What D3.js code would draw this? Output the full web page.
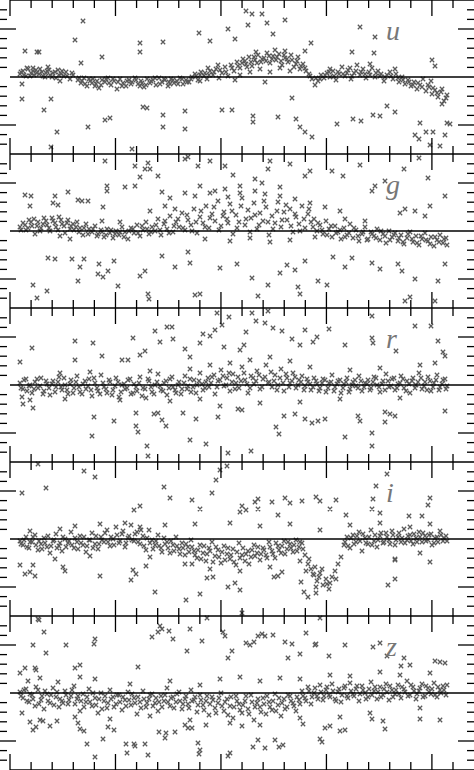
<!DOCTYPE html>
<html>
<head>
<meta charset="utf-8">
<script src="https://cdn.jsdelivr.net/npm/d3@7"></script>
<style>
body { margin: 0; background: #fff; }
svg { display: block; }
</style>
</head>
<body>
<script>
// Фильтры (подписи панелей)
var bands = ['u', 'g', 'r', 'i', 'z'];

// Точки панелей: пары x, y (y - отклонение от нулевой линии)
var uPoints = [
	20,3, 23,6, 26,1, 28,8, 31,4, 34,2, 36,7, 39,3, 42,5, 45,0, 47,6, 50,2, 53,4, 56,-1, 58,7, 61,3, 64,1, 66,5, 70,-2, 73,2,
	78,-3, 81,-6, 84,-1, 87,-9, 90,-4, 93,-2, 96,-7, 99,-11, 102,-3, 105,-5, 108,-1, 111,-8, 114,-4, 117,-12, 120,-2, 123,-6,
	126,-9, 129,-3, 132,-5, 135,-1, 138,-7, 141,-4, 144,-10, 147,-2, 150,-6, 153,-3, 156,-8, 159,-1, 162,-5, 165,-3, 168,-9,
	171,-2, 174,-6, 177,-4, 180,-1, 183,-7, 186,-3, 189,-5, 192,0, 195,3, 198,-3, 201,5, 204,1, 207,-2, 210,6, 213,2, 216,8,
	219,-1, 222,4, 225,10, 228,1, 231,12, 234,6, 237,15, 240,9, 243,18, 246,13, 249,20, 252,11, 255,17, 258,22, 261,15, 264,19,
	267,24, 270,14, 273,21, 276,17, 279,23, 282,12, 285,19, 288,15, 291,22, 294,10, 297,16, 300,8, 303,13, 306,6, 309,3, 312,-2,
	315,-8, 318,-4, 321,2, 324,-1, 327,4, 330,0, 333,6, 336,-3, 339,3, 342,10, 345,1, 348,7, 351,-2, 354,4, 357,12, 360,2, 363,8,
	366,-1, 369,5, 372,9, 375,0, 378,6, 381,3, 384,-4, 387,2, 390,5, 393,-2, 396,3, 399,-5, 402,0, 405,-7, 408,-3, 411,-9, 414,-5,
	417,-12, 420,-8, 423,-2, 426,-14, 429,-10, 432,-17, 435,-13, 438,-20, 441,-15, 444,-24, 447,-18,
	240,2, 250,5, 260,8, 270,5, 280,9, 290,6, 235,-3, 265,-5, 245,16, 256,25, 275,27, 285,26, 298,20, 218,12, 208,9, 33,9, 48,10,
	60,-4, 95,-9, 140,-9, 170,-7, 200,-4, 330,8, 350,9, 370,13, 395,8, 22,-7,
	25,26, 37,25, 39,25, 83,56, 75,37, 81,14, 102,20, 140,25, 140,34, 163,35, 199,44, 246,66, 252,63, 262,63, 248,52, 267,54,
	285,57, 273,43, 228,48, 210,36, 235,38, 360,50, 375,40, 352,25, 305,26, 311,34, 374,24, 432,17, 435,11, 431,-4,
	22,-22, 44,-33, 51,-22, 57,-55, 88,-50, 51,-70, 132,-72, 163,-50, 163,-38, 105,-43, 110,-41, 143,-30, 147,-31, 185,-34,
	185,-52, 222,-33, 232,-33, 253,-39, 253,-45, 278,-40, 292,-21, 296,-42, 300,-50, 305,-55, 312,-60, 337,-47, 361,-44, 373,-38,
	387,-29, 395,-35, 353,-42, 380,-39, 415,-58, 420,-46, 426,-55, 430,-68, 440,-69, 447,-46, 419,-62, 433,-55, 445,-58, 450,-47, 442,-27
];
var uExtra = [
	21,5, 24,2, 27,9, 30,1, 33,6, 37,4, 40,8, 43,1, 46,4, 49,7, 52,0, 55,5, 59,2, 62,6, 67,1, 72,4, 79,-1, 82,-4, 85,-7, 89,-2,
	92,-6, 97,-4, 101,-8, 106,-2, 109,-6, 113,-2, 118,-5, 122,-9, 127,-4, 131,-7, 136,-3, 142,-6, 146,-8, 151,-4, 155,-1, 160,-7,
	164,-2, 169,-5, 173,-3, 178,-7, 182,-2, 187,-5, 191,-2, 196,1, 200,2, 205,4, 209,2, 214,5, 220,7, 226,5, 232,9, 238,11,
	242,14, 247,10, 251,15, 254,20, 257,14, 262,18, 266,16, 269,21, 272,18, 277,20, 281,16, 284,22, 287,18, 292,17, 296,13,
	301,11, 305,9, 310,1, 316,-1, 320,-2, 325,2, 329,5, 334,1, 338,5, 343,3, 347,4, 352,1, 356,6, 361,5, 365,3, 370,2, 376,4,
	380,1, 385,0, 391,1, 398,-1, 403,-3, 409,-5, 413,-8, 418,-6, 422,-10, 428,-8, 433,-11, 437,-16, 442,-12, 446,-21
];

var gPoints = [
	20,4, 23,8, 26,1, 29,11, 32,5, 35,-3, 38,9, 41,3, 44,13, 47,6, 50,0, 53,10, 56,4, 59,14, 62,7, 65,-2, 68,11, 71,5, 74,1, 77,9,
	80,3, 83,-4, 86,7, 89,2, 92,-1, 95,5, 98,-3, 101,1, 104,-6, 107,2, 110,-2, 113,-7, 116,0, 119,-4, 122,4, 125,-1, 128,-8,
	131,3, 134,-2, 137,6, 140,-5, 143,1, 146,9, 149,-3, 152,4, 155,0, 158,12, 161,-4, 164,7, 167,2, 170,15, 173,-1, 176,9,
	179,4, 182,18, 185,1, 188,11, 191,6, 194,22, 197,-2, 200,14, 203,8, 206,25, 209,3, 212,17, 215,10, 218,30, 221,5, 224,19,
	227,12, 230,27, 233,-3, 236,16, 239,9, 242,33, 245,6, 248,21, 251,13, 254,28, 257,2, 260,18, 263,10, 266,24, 269,-4, 272,15,
	275,8, 278,29, 281,4, 284,19, 287,11, 290,22, 293,-1, 296,14, 299,7, 302,25, 305,3, 308,17, 311,9, 314,12, 317,0, 320,6,
	323,-3, 326,10, 329,2, 332,-6, 335,5, 338,-1, 341,-8, 344,3, 347,-4, 350,7, 353,-7, 356,1, 359,-10, 362,-3, 365,4, 368,-8,
	371,-1, 374,-5, 377,2, 380,-9, 383,-3, 386,-12, 389,0, 392,-6, 395,-2, 398,-10, 401,-4, 404,-13, 407,-7, 410,-1, 413,-11,
	416,-5, 419,-14, 422,-8, 425,-2, 428,-10, 431,-6, 434,-15, 437,-9, 440,-4, 443,-12, 446,-7,
	150,20, 165,25, 175,22, 195,35, 210,38, 225,42, 240,45, 255,40, 265,37, 280,35, 295,32, 310,28, 325,24, 340,20, 205,-8,
	230,-10, 250,-7, 270,-11, 290,-9, 315,-6, 345,12, 365,10, 400,18, 405,22, 415,20, 425,15, 430,25, 102,10, 120,9, 60,-5, 70,-8,
	25,36, 30,25, 31,35, 55,35, 58,26, 68,39, 78,31, 82,30, 53,28, 88,30, 103,24, 107,45, 107,40, 135,45, 140,54, 145,62, 148,68,
	150,62, 158,55, 135,65, 162,39, 105,70, 125,44, 185,72, 188,74, 198,65, 210,70, 225,65, 233,56, 270,70, 268,62, 290,67, 310,60,
	305,55, 332,60, 343,55, 360,66, 375,45, 385,50, 404,62, 419,73, 445,35, 428,53, 372,40,
	33,-54, 37,-67, 47,-60, 80,-36, 98,-43, 78,-50, 48,-27, 55,-28, 72,-28, 84,-28, 99,-33, 103,-46, 108,-40, 118,-55, 114,-30,
	140,-45, 145,-40, 148,-63, 149,-68, 162,-25, 175,-36, 188,-21, 190,-32, 195,-64, 200,-63, 220,-37, 237,-33, 252,-47, 258,-65,
	268,-54, 280,-42, 287,-34, 295,-39, 298,-56, 300,-63, 305,-30, 318,-50, 327,-54, 333,-26, 345,-36, 352,-27, 372,-32, 380,-38,
	398,-33, 402,-40, 405,-70, 410,-66, 415,-48, 438,-50, 445,-33, 435,-70
];
var gExtra = [
	21,1, 25,6, 28,3, 31,9, 34,12, 37,5, 40,0, 43,7, 46,10, 49,3, 52,13, 55,8, 58,1, 61,11, 64,5, 67,8, 70,2, 73,7, 76,4, 79,-1,
	84,3, 88,-3, 93,2, 97,-5, 102,-1, 106,-4, 111,1, 115,-3, 120,-1, 124,-6, 129,0, 133,2, 138,-2, 142,5, 147,2, 151,-1, 156,6,
	160,1, 165,10, 169,-2, 174,5, 178,12, 183,3, 187,16, 192,0, 196,9, 201,20, 205,4, 210,13, 214,24, 219,1, 223,15, 228,8,
	232,20, 237,3, 241,25, 246,12, 250,-1, 255,16, 259,6, 264,30, 268,9, 273,2, 277,20, 282,11, 286,26, 291,5, 295,17, 300,0,
	304,12, 309,22, 313,4, 318,8, 322,1, 327,-4, 331,5, 336,-2, 340,1, 345,-6, 349,-2, 354,3, 358,-5, 363,-1, 367,-9, 372,-3,
	376,-7, 381,0, 385,-5, 390,-9, 394,-4, 399,-7, 403,-11, 408,-3, 412,-8, 417,-12, 421,-5, 426,-9, 430,-13, 435,-6, 439,-11,
	444,-8, 447,-14, 255,52, 240,38, 228,34, 215,40, 262,48, 280,44, 200,45, 185,38, 170,33
];

var rPoints = [
	20,2, 23,-4, 26,6, 29,-1, 32,-8, 35,3, 38,-3, 41,7, 44,-6, 47,1, 50,-10, 53,4, 56,-2, 59,8, 62,-5, 65,0, 68,-9, 71,5, 74,-3,
	77,9, 80,-7, 83,1, 86,-4, 89,6, 92,-11, 95,2, 98,-6, 101,10, 104,-2, 107,-8, 110,3, 113,-5, 116,7, 119,-12, 122,0, 125,-4,
	128,5, 131,-9, 134,1, 137,-6, 140,8, 143,-3, 146,-13, 149,4, 152,-7, 155,0, 158,11, 161,-5, 164,2, 167,-10, 170,6, 173,-2,
	176,-8, 179,3, 182,-4, 185,9, 188,-1, 191,-7, 194,5, 197,0, 200,12, 203,-5, 206,3, 209,-2, 212,8, 215,-9, 218,4, 221,15,
	224,-1, 227,7, 230,-6, 233,11, 236,2, 239,-3, 242,18, 245,5, 248,-8, 251,9, 254,1, 257,14, 260,-4, 263,6, 266,20, 269,3,
	272,-2, 275,10, 278,0, 281,16, 284,-6, 287,7, 290,2, 293,12, 296,-3, 299,5, 302,9, 305,-1, 308,3, 311,-5, 314,7, 317,1,
	320,-3, 323,6, 326,-7, 329,2, 332,10, 335,-2, 338,4, 341,-8, 344,1, 347,7, 350,-4, 353,3, 356,-1, 359,9, 362,-6, 365,2,
	368,5, 371,-3, 374,8, 377,0, 380,-7, 383,4, 386,11, 389,-2, 392,6, 395,-5, 398,1, 401,9, 404,-3, 407,4, 410,-8, 413,7,
	416,0, 419,12, 422,-4, 425,3, 428,8, 431,-6, 434,2, 437,10, 440,-2, 443,5, 446,-4,
	60,12, 90,13, 150,14, 190,16, 210,20, 230,22, 250,25, 270,28, 290,24, 310,18, 350,15, 380,17, 420,20, 435,22, 120,-15, 170,-16,
	200,-14, 260,-18, 300,-17, 340,-14, 400,-13, 30,-15, 65,-14,
	20,23, 32,37, 75,44, 75,25, 93,42, 102,29, 122,25, 128,25, 133,47, 140,30, 145,34, 155,54, 160,43, 167,58, 172,58, 173,46,
	185,36, 190,28, 200,42, 203,51, 210,49, 215,55, 217,72, 222,60, 224,38, 229,68, 240,35, 244,40, 246,53, 252,72, 256,64,
	265,62, 268,74, 273,57, 282,54, 292,46, 300,40, 305,55, 313,43, 317,48, 329,56, 345,40, 372,69, 372,47, 373,42, 396,34,
	415,59, 431,59, 438,44, 443,33, 445,29,
	22,-12, 23,-19, 33,-23, 92,-51, 94,-32, 114,-36, 136,-28, 138,-47, 136,-41, 147,-61, 148,-71, 154,-29, 158,-28, 162,-35,
	166,-41, 183,-28, 190,-55, 196,-34, 206,-59, 218,-32, 220,-21, 228,-68, 238,-24, 242,-25, 251,-66, 276,-42, 279,-49, 284,-31,
	295,-29, 305,-34, 312,-38, 318,-36, 325,-34, 345,-52, 358,-31, 360,-36, 372,-48, 372,-61, 385,-27, 385,-37, 390,-29, 395,-31, 445,-26
];
var rExtra = [
	21,-3, 24,5, 27,-6, 30,0, 34,-4, 37,6, 40,-1, 43,-9, 46,4, 49,-3, 52,1, 55,-7, 58,3, 61,-2, 64,7, 67,-5, 70,1, 73,-8, 76,3,
	79,-2, 82,-9, 85,4, 88,-1, 91,-5, 94,7, 97,-3, 100,-9, 103,2, 106,-4, 109,5, 112,-10, 115,-1, 118,3, 121,-7, 124,1, 127,-3,
	130,6, 133,-8, 136,-2, 139,2, 142,-11, 145,-4, 148,6, 151,-2, 154,-9, 157,3, 160,-1, 163,-6, 166,4, 169,-3, 172,8, 175,-5,
	178,0, 181,-9, 184,2, 187,-4, 190,6, 193,-2, 196,-8, 199,4, 202,1, 205,-3, 208,7, 211,2, 214,10, 217,-2, 220,5, 223,9, 226,0,
	229,12, 232,3, 235,-4, 238,8, 241,4, 244,12, 247,1, 250,-3, 253,7, 256,4, 259,10, 262,-2, 265,8, 268,2, 271,13, 274,4, 277,-5,
	280,7, 283,2, 286,11, 289,-2, 292,4, 295,8, 298,0, 301,3, 304,-5, 307,6, 310,1, 313,-2, 316,4, 319,-6, 322,2, 325,5, 328,-3,
	331,3, 334,-6, 337,1, 340,5, 343,-3, 346,3, 349,-7, 352,0, 355,5, 358,-3, 361,4, 364,-2, 367,1, 370,-5, 373,3, 376,7, 379,-2,
	382,1, 385,-5, 388,4, 391,-1, 394,7, 397,-3, 400,2, 403,6, 406,-6, 409,1, 412,4, 415,-3, 418,3, 421,7, 424,-1, 427,-5, 430,4,
	433,-2, 436,5, 439,-5, 442,1, 445,6, 447,-1
];

var iPoints = [
	20,-2, 23,-6, 26,2, 29,-9, 32,-3, 35,4, 38,-11, 41,-5, 44,1, 47,-8, 50,-14, 53,-2, 56,5, 59,-7, 62,-12, 65,0, 68,-4, 71,7,
	74,-9, 77,-3, 80,3, 83,-6, 86,-13, 89,-1, 92,6, 95,-5, 98,-10, 101,2, 104,-3, 107,9, 110,-7, 113,0, 116,12, 119,-4, 122,5,
	125,-8, 128,1, 131,14, 134,-2, 137,7, 140,-5, 143,3, 146,-11, 149,9, 152,-1, 155,-6, 158,4, 161,-9, 164,1, 167,-3, 170,-14,
	173,-6, 176,2, 179,-10, 182,-4, 185,-16, 188,-8, 191,-1, 194,-12, 197,-19, 200,-6, 203,-14, 206,-22, 209,-9, 212,-3, 215,-17,
	218,-11, 221,-24, 224,-7, 227,-15, 230,-20, 233,-10, 236,-26, 239,-4, 242,-16, 245,-22, 248,-12, 251,-18, 254,-6, 257,-14,
	260,-21, 263,-9, 266,-16, 269,-3, 272,-12, 275,-19, 278,-7, 281,-14, 284,-2, 287,-10, 290,-5, 293,-13, 296,-1, 299,-8,
	302,-4, 305,-16, 308,-25, 311,-30, 314,-36, 317,-42, 320,-34, 323,-46, 326,-40, 329,-50, 332,-38, 335,-32, 338,-25, 341,-18,
	344,-6, 347,2, 350,-9, 353,4, 356,-3, 359,7, 362,-12, 365,1, 368,-5, 371,9, 374,-2, 377,-8, 380,3, 383,-4, 386,6, 389,-1,
	392,8, 395,-6, 398,2, 401,-3, 404,10, 407,-1, 410,4, 413,-5, 416,1, 419,7, 422,-3, 425,3, 428,-1, 431,5, 434,-4, 437,2,
	440,8, 443,-2, 446,3,
	309,-20, 315,-28, 319,-38, 322,-30, 327,-45, 330,-44, 316,-48, 313,-35, 306,-32, 300,-22, 336,-40,
	30,8, 60,10, 75,13, 100,15, 125,16, 140,12, 165,14, 195,15, 230,16, 260,13, 290,15, 320,9, 350,14, 380,16, 410,12, 430,15,
	210,-30, 240,-32, 185,-25, 150,-18, 90,-17, 55,-20, 270,-28, 395,-20, 420,-14,
	38,75, 46,51, 22,46, 95,62, 84,68, 134,29, 140,33, 164,52, 170,41, 192,39, 200,30, 212,46, 216,59, 220,69, 227,73,
	240,27, 242,33, 246,29, 255,37, 258,40, 258,30, 272,37, 278,24, 285,41, 290,36, 302,38, 316,42, 320,38, 330,30,
	336,39, 346,24, 372,30, 373,40, 376,53, 380,26, 387,65, 430,41, 428,34, 409,23, 422,23,
	20,-26, 25,-35, 30,-33, 35,-37, 33,-26, 63,-28, 65,-32, 100,-37, 131,-41, 133,-31, 136,-35, 146,-27, 155,-53, 186,-61,
	192,-25, 200,-55, 207,-39, 213,-38, 228,-48, 235,-44, 242,-74, 240,-51, 274,-38, 278,-37, 282,-33, 301,-43, 304,-53, 308,-58,
	316,-54, 388,-46, 395,-40, 395,-21, 430,-23
];
var iExtra = [
	21,-5, 24,-1, 27,-8, 30,-3, 33,2, 36,-6, 39,-2, 42,-10, 45,-4, 48,3, 51,-7, 54,-1, 57,-9, 60,-4, 63,2, 66,-8, 69,-2, 72,-6,
	75,1, 78,-10, 81,-4, 84,2, 87,-7, 90,-1, 93,-9, 96,3, 99,-5, 102,-1, 105,6, 108,-3, 111,2, 114,-6, 117,4, 120,-2, 123,8,
	126,-4, 129,3, 132,-1, 135,5, 138,-3, 141,9, 144,-7, 147,1, 150,-4, 153,-10, 156,-2, 159,-7, 162,-13, 165,-5, 168,-9, 171,-2,
	174,-12, 177,-7, 180,-15, 183,-9, 186,-5, 189,-13, 192,-8, 195,-16, 198,-11, 201,-20, 204,-7, 207,-15, 210,-12, 213,-23,
	216,-8, 219,-18, 222,-13, 225,-21, 228,-9, 231,-16, 234,-23, 237,-13, 240,-19, 243,-9, 246,-15, 249,-25, 252,-11, 255,-17,
	258,-8, 261,-15, 264,-11, 267,-19, 270,-8, 273,-15, 276,-4, 279,-11, 282,-7, 285,-15, 288,-3, 291,-9, 294,-6, 297,-12,
	300,-3, 303,-10, 345,-3, 348,-7, 351,1, 354,-5, 357,3, 360,-2, 363,5, 366,-4, 369,2, 372,-6, 375,4, 378,-1, 381,6, 384,-3,
	387,2, 390,-5, 393,4, 396,-1, 399,6, 402,1, 405,-4, 408,3, 411,-2, 414,5, 417,-3, 420,2, 423,6, 426,-2, 429,4, 432,-6, 435,1,
	438,-3, 441,4, 444,1, 447,-2
];

var zPoints = [
	20,1, 23,-5, 26,4, 29,-9, 32,-2, 35,-13, 38,3, 41,-7, 44,-16, 47,-1, 50,-10, 53,5, 56,-4, 59,-14, 62,-8, 65,2, 68,-11, 71,-3,
	74,7, 77,-6, 80,-18, 83,-1, 86,-9, 89,4, 92,-13, 95,-5, 98,-20, 101,0, 104,-8, 107,-15, 110,3, 113,-4, 116,-11, 119,-2,
	122,-17, 125,-7, 128,1, 131,-12, 134,-5, 137,-21, 140,-9, 143,2, 146,-14, 149,-6, 152,-1, 155,-10, 158,-18, 161,-3, 164,-8,
	167,5, 170,-13, 173,-4, 176,-9, 179,1, 182,-16, 185,-6, 188,-11, 191,3, 194,-7, 197,-19, 200,-2, 203,-12, 206,-8, 209,-22,
	212,-4, 215,-15, 218,-10, 221,0, 224,-18, 227,-6, 230,-13, 233,-25, 236,-3, 239,-11, 242,-20, 245,-8, 248,-16, 251,-2, 254,-27,
	257,-10, 260,-14, 263,-5, 266,-21, 269,-9, 272,-17, 275,-1, 278,-12, 281,-23, 284,-6, 287,-14, 290,-3, 293,-10, 296,-18,
	299,-7, 302,2, 305,-5, 308,6, 311,-11, 314,0, 317,-3, 320,8, 323,-7, 326,3, 329,-2, 332,9, 335,-6, 338,1, 341,-9, 344,5,
	347,-3, 350,10, 353,-1, 356,4, 359,-8, 362,7, 365,0, 368,-4, 371,11, 374,2, 377,-6, 380,6, 383,-2, 386,9, 389,-7, 392,3,
	395,-1, 398,8, 401,-5, 404,4, 407,12, 410,-2, 413,6, 416,-6, 419,2, 422,9, 425,-3, 428,5, 431,-1, 434,10, 437,-4, 440,3,
	443,7, 446,-2,
	28,12, 40,15, 58,11, 80,16, 95,14, 130,9, 170,12, 200,8, 220,14, 240,16, 260,12, 280,15, 300,14, 330,18, 350,17, 380,21,
	400,18, 430,20, 75,-24, 110,-26, 150,-23, 190,-27, 230,-30, 260,-32, 300,-25, 340,-24, 370,-20, 420,-15,
	20,20, 25,25, 35,25, 36,23, 33,48, 39,73, 38,74, 44,61, 46,40, 66,48, 75,25, 80,28, 94,49, 95,54, 138,26, 152,56, 158,61,
	160,67, 162,64, 169,62, 173,54, 187,42, 190,64, 202,52, 207,75, 223,61, 225,57, 228,35, 232,42, 246,50, 250,48, 254,51,
	258,57, 262,59, 265,57, 273,58, 285,51, 288,35, 292,49, 300,39, 306,60, 315,48, 316,49, 320,75, 329,37, 345,48, 373,46,
	380,50, 387,37, 401,27, 410,28, 435,32, 440,31, 445,30, 404,35,
	22,-20, 30,-29, 36,-34, 33,-37, 40,-27, 43,-28, 50,-33, 57,-28, 78,-30, 80,-36, 84,-38, 87,-51, 95,-64, 103,-46, 108,-34,
	114,-37, 126,-51, 127,-60, 134,-51, 135,-53, 145,-51, 148,-62, 159,-39, 165,-45, 166,-40, 175,-39, 185,-32, 188,-35, 192,-35,
	198,-50, 200,-57, 199,-61, 206,-32, 228,-63, 230,-60, 242,-33, 253,-54, 258,-47, 265,-55, 275,-47, 279,-54, 283,-52, 303,-31,
	320,-46, 322,-49, 325,-35, 330,-33, 340,-38, 345,-37, 372,-26, 383,-28, 385,-36, 420,-26, 440,-27
];
var zExtra = [
	21,-3, 24,3, 27,-8, 30,-1, 33,-6, 36,6, 39,-11, 42,-3, 45,2, 48,-8, 51,-2, 54,-12, 57,1, 60,-6, 63,-10, 66,-2, 69,-7, 72,3,
	75,-11, 78,-3, 81,-8, 84,-14, 87,-4, 90,-9, 93,0, 96,-12, 99,-6, 102,-16, 105,-3, 108,-10, 111,-6, 114,-14, 117,-2, 120,-9,
	123,-4, 126,-13, 129,-7, 132,-1, 135,-10, 138,-4, 141,-15, 144,-6, 147,-10, 150,-2, 153,-13, 156,-5, 159,-9, 162,-14, 165,-2,
	168,-9, 171,-5, 174,-15, 177,-1, 180,-8, 183,-11, 186,-3, 189,-15, 192,-8, 195,-4, 198,-12, 201,-7, 204,-17, 207,-3, 210,-11,
	213,-7, 216,-20, 219,-5, 222,-13, 225,-9, 228,-22, 231,-4, 234,-14, 237,-8, 240,-17, 243,-12, 246,-3, 249,-21, 252,-9,
	255,-14, 258,-6, 261,-19, 264,-11, 267,-3, 270,-14, 273,-8, 276,-18, 279,-5, 282,-10, 285,-16, 288,-2, 291,-8, 294,-13,
	297,-4, 300,-11, 303,-3, 306,-8, 309,2, 312,-4, 315,5, 318,-6, 321,1, 324,-3, 327,6, 330,-4, 333,2, 336,-8, 339,4, 342,-2,
	345,7, 348,-5, 351,2, 354,-3, 357,7, 360,-1, 363,3, 366,-6, 369,4, 372,-2, 375,6, 378,1, 381,-4, 384,4, 387,1, 390,7, 393,-4,
	396,3, 399,-1, 402,6, 405,1, 408,-3, 411,8, 414,2, 417,-1, 420,5, 423,-4, 426,7, 429,1, 432,4, 435,-2, 438,6, 441,0, 444,3, 447,8
];

var panelPoints = [uPoints.concat(uExtra), gPoints.concat(gExtra), rPoints.concat(rExtra), iPoints.concat(iExtra), zPoints.concat(zExtra)];

// Деления осей
var xTickValues = d3.range(0, 22); // номера делений, главные - каждое пятое
var yTickValues = d3.range(-8, 9); // номера делений, главные - ±5

function ready() {
	var width = 474,
			height = 770,
			panelHeight = height / bands.length,
			svg = d3.select('body')
				.append('svg')
				.attr('width', width)
				.attr('height', height);

	var x = d3.scaleLinear().domain([0, 474]).range([0, width]),
			xTick = d3.scaleLinear().domain([0, 21]).range([10, 453]),
			y = d3.scaleLinear().domain([-77, 77]).range([panelHeight, 0]),
			yTick = d3.scaleLinear().domain([-8, 8]).range([panelHeight / 2 + 76.8, panelHeight / 2 - 76.8]);

	var times = d3.symbol().type(d3.symbolTimes).size(14);

	bands.forEach(function(band, p) {
		var g = svg.append('g').attr('transform', 'translate(0,' + (p * panelHeight) + ')'),
				flat = panelPoints[p],
				pts = [];

		for (var k = 0; k < flat.length; k += 2) {
			pts.push([flat[k], flat[k + 1]]);
		}

		// Точки
		g.selectAll('path.pt')
			.data(pts)
			.enter()
			.append('path')
			.attr('class', 'pt')
			.attr('d', times)
			.attr('transform', function(d) { return 'translate(' + x(d[0]) + ',' + y(d[1]) + ')'; })
			.attr('fill', 'none')
			.attr('stroke', '#5a5a5a')
			.attr('stroke-width', 1.3);

		// Нулевая линия
		g.append('line')
			.attr('x1', 10).attr('x2', width)
			.attr('y1', y(0)).attr('y2', y(0))
			.attr('stroke', '#000').attr('stroke-width', 1.5);

		// Деления по y слева и справа
		yTickValues.forEach(function(t) {
			if (t === 0 || Math.abs(t) === 8) return;
			var len = Math.abs(t) === 5 ? 16 : 7;
			g.append('line').attr('x1', 0).attr('x2', len)
				.attr('y1', yTick(t)).attr('y2', yTick(t))
				.attr('stroke', '#000').attr('stroke-width', 1.3);
			g.append('line').attr('x1', width - len).attr('x2', width)
				.attr('y1', yTick(t)).attr('y2', yTick(t))
				.attr('stroke', '#000').attr('stroke-width', 1.3);
		});

		// Подпись фильтра
		g.append('text')
			.attr('x', 386)
			.attr('y', 40)
			.attr('font-family', 'Liberation Serif, DejaVu Serif, serif')
			.attr('font-style', 'italic')
			.attr('font-size', 28)
			.attr('fill', '#777')
			.text(band);
	});

	// Границы панелей с делениями по x
	d3.range(0, bands.length + 1).forEach(function(b) {
		var yb = b * panelHeight;
		svg.append('line')
			.attr('x1', 10).attr('x2', width)
			.attr('y1', yb).attr('y2', yb)
			.attr('stroke', '#000').attr('stroke-width', 1.5);
		xTickValues.forEach(function(t) {
			var len = t % 5 === 0 ? 16 : 8;
			svg.append('line')
				.attr('x1', xTick(t)).attr('x2', xTick(t))
				.attr('y1', yb - len).attr('y2', yb + len)
				.attr('stroke', '#000').attr('stroke-width', 1.3);
		});
	});
}

window.onload = function() {
	ready();
};
</script>
</body>
</html>
